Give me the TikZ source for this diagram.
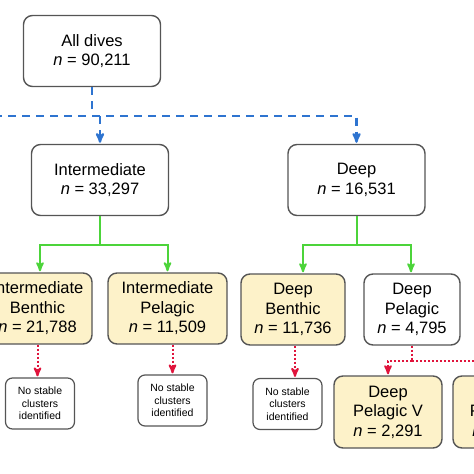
\documentclass[tikz,border=0pt]{standalone}
\usepackage{fontspec}
\setmainfont{Liberation Sans}
\usepackage{tikz}
\usetikzlibrary{arrows,positioning}

\definecolor{boxline}{HTML}{555555}
\definecolor{boxfill}{HTML}{FDF2C9}
\definecolor{dashblue}{HTML}{2E74D0}
\definecolor{splitgreen}{HTML}{4CD43A}
\definecolor{dotred}{HTML}{E0143C}

\begin{document}
\begin{tikzpicture}[x=1pt,y=-1pt,>=stealth',shorten >=1pt,
  main node/.style={rectangle,rounded corners=9pt,draw=boxline,line width=1.4pt,fill=white,
    align=center,minimum height=71pt,inner sep=2pt,font=\fontsize{16.5}{19.5}\selectfont},
  group node/.style={main node,fill=boxfill},
  none node/.style={rectangle,rounded corners=7pt,draw=boxline,line width=1.2pt,fill=white,
    align=center,minimum width=69pt,minimum height=51pt,inner sep=1pt,font=\fontsize{10.5}{12.5}\selectfont},
  blue link/.style={draw=dashblue,line width=2.2pt,dash pattern=on 8pt off 6pt},
  green link/.style={draw=splitgreen,line width=2pt},
  red link/.style={draw=dotred,line width=2pt,dotted}]
  \path[use as bounding box,clip] (0,0) rectangle (474,474);

  \node[main node,minimum width=137pt] (all) at (92,51) {All dives\\\textit{n} = 90,211};
  \node[main node,minimum width=137pt] (inter) [below of=all,node distance=129pt,xshift=8pt] {Intermediate\\\textit{n} = 33,297};
  \node[main node,minimum width=137pt] (deep) [right of=inter,node distance=256.5pt] {Deep\\\textit{n} = 16,531};

  \node[group node,minimum width=109pt] (ib) [below of=inter,node distance=128.5pt,xshift=-62.5pt] {Intermediate\\Benthic\\\textit{n} = 21,788};
  \node[group node,minimum width=119pt] (ip) [right of=ib,node distance=130pt] {Intermediate\\Pelagic\\\textit{n} = 11,509};
  \node[group node,minimum width=104pt] (db) [below of=deep,node distance=129.5pt,xshift=-63.5pt] {Deep\\Benthic\\\textit{n} = 11,736};
  \node[main node,minimum width=96pt] (dp) [right of=db,node distance=119pt] {Deep\\Pelagic\\\textit{n} = 4,795};

  \node[none node] (ib none) [below of=ib,node distance=95pt,xshift=2.5pt] {No stable\\clusters\\identified};
  \node[none node] (ip none) [below of=ip,node distance=92pt,xshift=5pt] {No stable\\clusters\\identified};
  \node[none node] (db none) [below of=db,node distance=94.5pt,xshift=-5.5pt] {No stable\\clusters\\identified};
  \node[group node,minimum width=108pt,minimum height=72pt] (dpv) [below of=dp,node distance=102.5pt,xshift=-24pt] {Deep\\Pelagic V\\\textit{n} = 2,291};
  \node[group node,minimum width=108pt,minimum height=72pt] (dpvi) [right of=dpv,node distance=119pt] {Deep\\Pelagic VI\\\textit{n} = 2,504};

  % depth split
  \coordinate (bus) at (-20,116);
  \draw[blue link] (all.south) -- (all.south |- bus);
  \draw[blue link,->] (bus) -| (deep.north);
  \draw[blue link,->] (inter.north |- bus) -- (inter.north);

  % benthic / pelagic split
  \draw[green link] (inter.south) -- ++(0,29) coordinate (inter split);
  \draw[green link,->] (inter split) -| ([xshift=2.5pt]ib.north);
  \draw[green link,->] (inter split) -| (ip.north);
  \draw[green link] (deep.south) -- ++(0,29) coordinate (deep split);
  \draw[green link,->] (deep split) -| ([xshift=10pt]db.north);
  \draw[green link,->] (deep split) -| ([xshift=-1pt]dp.north);

  % clustering
  \draw[red link,->] (ib.south) -- (ib.south |- ib none.north);
  \draw[red link,->] (ip none.north |- ip.south) -- (ip none.north);
  \draw[red link,->] ([xshift=2pt]db.south) -- ([xshift=2pt]db.south |- db none.north);
  \draw[red link] (dp.south) -- ++(0,15) coordinate (dp split);
  \draw[red link,->] (dp split) -| (dpv.north);
  \draw[red link,->] (dp split) -| (dpvi.north);
\end{tikzpicture}
\end{document}
